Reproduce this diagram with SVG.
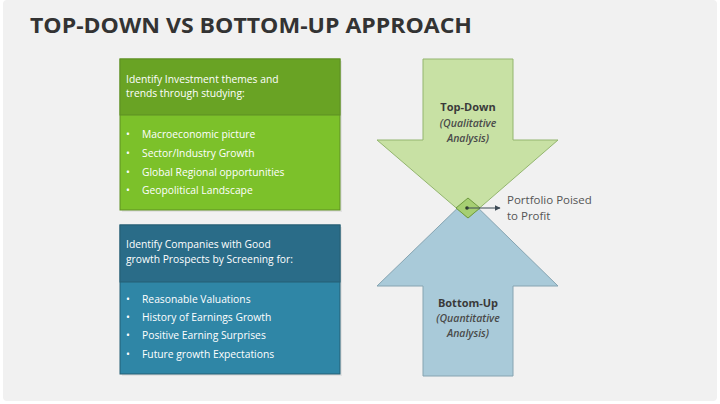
<svg xmlns="http://www.w3.org/2000/svg" width="720" height="404" viewBox="0 0 720 404">
<defs>
<style>
.title{font-family:"Open Sans","Liberation Sans",sans-serif;font-weight:bold;font-size:22px;fill:#333333}
.bx{font-family:"Open Sans","Liberation Sans",sans-serif;font-size:10.3px;fill:#ffffff}
.ar{font-family:"Open Sans","Liberation Sans",sans-serif;font-size:10.5px;fill:#3a3a3a;text-anchor:middle}
.arb{font-weight:bold;font-size:11px}
.ari{font-style:italic;font-weight:600;font-size:10.5px;fill:#4a4a4a}
.lbl{font-family:"Open Sans","Liberation Sans",sans-serif;font-size:11.5px;fill:#555555}
</style>
<marker id="ah" viewBox="0 0 10 10" refX="9" refY="5" markerWidth="5" markerHeight="5" orient="auto">
<path d="M0,0 L10,5 L0,10 z" fill="#3d4a55"/>
</marker>
</defs>
<rect x="0" y="0" width="720" height="404" fill="#ffffff"/>
<rect x="3" y="0" width="714" height="401" rx="4" fill="#f1f1f1"/>
<text class="title" x="30" y="33" textLength="442" lengthAdjust="spacingAndGlyphs">TOP-DOWN VS BOTTOM-UP APPROACH</text>

<g id="green-box">
<rect x="122" y="61" width="220" height="151" fill="#000" opacity="0.06"/>
<rect x="120" y="59" width="220" height="151" fill="#7cc12a" stroke="#5e8f22" stroke-width="1"/>
<rect x="120" y="59" width="220" height="56" fill="#69a324" stroke="#5e8f22" stroke-width="1"/>
<text class="bx" x="126" y="83">Identify Investment themes and</text>
<text class="bx" x="126" y="97">trends through studying:</text>
<text class="bx" x="126" y="138">•</text><text class="bx" x="142" y="138">Macroeconomic picture</text>
<text class="bx" x="126" y="157">•</text><text class="bx" x="142" y="157">Sector/Industry Growth</text>
<text class="bx" x="126" y="176">•</text><text class="bx" x="142" y="176">Global Regional opportunities</text>
<text class="bx" x="126" y="194">•</text><text class="bx" x="142" y="194">Geopolitical Landscape</text>
</g>

<g id="blue-box">
<rect x="122" y="227" width="220" height="149" fill="#000" opacity="0.06"/>
<rect x="120" y="225" width="220" height="149" fill="#2f86a6" stroke="#245f75" stroke-width="1"/>
<rect x="120" y="225" width="220" height="57" fill="#2a6c88" stroke="#245f75" stroke-width="1"/>
<text class="bx" x="126" y="248">Identify Companies with Good</text>
<text class="bx" x="126" y="263">growth Prospects by Screening for:</text>
<text class="bx" x="126" y="303">•</text><text class="bx" x="142" y="303">Reasonable Valuations</text>
<text class="bx" x="126" y="321">•</text><text class="bx" x="142" y="321">History of Earnings Growth</text>
<text class="bx" x="126" y="339">•</text><text class="bx" x="142" y="339">Positive Earning Surprises</text>
<text class="bx" x="126" y="358">•</text><text class="bx" x="142" y="358">Future growth Expectations</text>
</g>

<g id="bottom-up-arrow">
<path d="M468,198 L558,286 L513,286 L513,376 L423,376 L423,286 L377,286 Z" fill="#a9cad9" stroke="#86a4b1" stroke-width="1"/>
<text class="ar arb" x="468" y="307">Bottom-Up</text>
<text class="ar ari" x="468" y="322">(Quantitative</text>
<text class="ar ari" x="468" y="337">Analysis)</text>
</g>

<g id="top-down-arrow">
<path d="M423,59 L513,59 L513,140 L558,140 L468,218 L377,140 L423,140 Z" fill="#c8e1a4" stroke="#93b56e" stroke-width="1"/>
<text class="ar arb" x="468" y="111">Top-Down</text>
<text class="ar ari" x="468" y="127">(Qualitative</text>
<text class="ar ari" x="468" y="142">Analysis)</text>
</g>

<g id="portfolio-diamond">
<path d="M468,198 L480,208 L468,218 L456,208 Z" fill="#a6cf72" stroke="#6f9a40" stroke-width="1"/>
</g>

<g id="portfolio-label">
<text class="lbl" x="507" y="204">Portfolio Poised</text>
<text class="lbl" x="507" y="220">to Profit</text>
</g>

<g id="connectors">
<circle cx="467" cy="208" r="1.8" fill="#2d3a2a"/>
<line x1="467" y1="208" x2="500" y2="208" stroke="#3d4a55" stroke-width="1.2" marker-end="url(#ah)"/>
</g>
</svg>
